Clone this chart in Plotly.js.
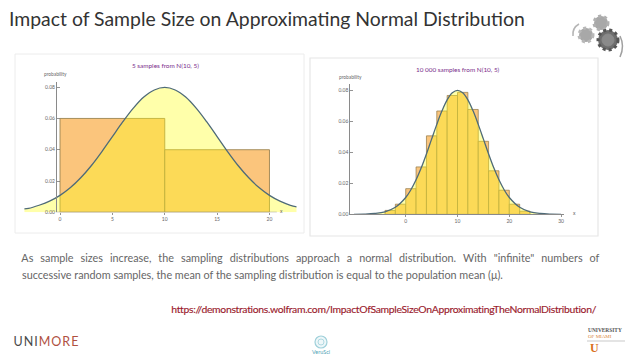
<!DOCTYPE html>
<html><head><meta charset="utf-8">
<script src="https://cdn.plot.ly/plotly-3.0.1.min.js"></script>
<style>html,body{margin:0;padding:0;background:#fff}#c{width:640px;height:360px}</style>
</head><body><div id="c"></div>
<script>
// Data
const leftBarCenters = [5, 15];
const leftBarWidths = [10, 10];
const leftBarValues = [0.06, 0.04];
const leftCurveX = [-3.4,-3,-2,-1,0,1,2,3,4,5,6,7,8,9,10,11,12,13,14,15,16,17,18,19,20,21,22,22.6];
const leftCurveY = [0.0022,0.0025,0.0045,0.0071,0.0108,0.0158,0.0222,0.0299,0.0388,0.0484,0.0579,0.0666,0.0737,0.0782,0.0798,0.0782,0.0737,0.0666,0.0579,0.0484,0.0388,0.0299,0.0222,0.0158,0.0108,0.0071,0.0045,0.0034];
const rightBarCenters = [-3,-1,1,3,5,7,9,11,13,15,17,19,21,23];
const rightBarValues = [0.0025,0.0065,0.0165,0.0305,0.0505,0.0665,0.0765,0.0785,0.0675,0.047,0.028,0.0155,0.0065,0.002];
const rightCurveX = [-10,-8,-6,-4,-2,0,1,2,3,4,5,6,7,8,9,10,11,12,13,14,15,16,17,18,19,20,22,24,26,28,30];
const rightCurveY = [0.0000,0.0001,0.0005,0.0016,0.0045,0.0108,0.0158,0.0222,0.0299,0.0388,0.0484,0.0579,0.0666,0.0737,0.0782,0.0798,0.0782,0.0737,0.0666,0.0579,0.0484,0.0388,0.0299,0.0222,0.0158,0.0108,0.0045,0.0016,0.0005,0.0001,0.0000];
const leftXTicks = [0,5,10,15,20];
const rightXTicks = [0,10,20,30];
const yTicks = [0,0.02,0.04,0.06,0.08];
const titleText = 'Impact of Sample Size on Approximating Normal Distribution';
const leftTitle = '5 samples from N(10, 5)';
const rightTitle = '10 000 samples from N(10, 5)';
const bodyLine1 = 'As sample sizes increase, the sampling distributions approach a normal distribution. With "infinite" numbers of';
const bodyLine2 = 'successive random samples, the mean of the sampling distribution is equal to the population mean (μ).';
const linkText = 'https://demonstrations.wolfram.com/ImpactOfSampleSizeOnApproximatingTheNormalDistribution/';

const W=640,H=360;
const px=x=>x/W, py=y=>1-y/H;
const FONT='Lato, sans-serif';
const barFill='#FBC57C', barLine='#9C8350', curve='#4F6B78', fillC='rgba(255,255,25,0.37)', axisC='#8a8a8a', tickC='#666';

const bar=(x,y,w,xa,ya,lw)=>({type:'bar',x,y,width:w,xaxis:xa,yaxis:ya,marker:{color:barFill,line:{color:barLine,width:lw}},hoverinfo:'skip'});
const cur=(x,y,xa,ya)=>({type:'scatter',mode:'lines',x,y,xaxis:xa,yaxis:ya,fill:'tozeroy',fillcolor:fillC,line:{color:curve,width:1.3,shape:'spline'},hoverinfo:'skip'});

const data=[
 bar(leftBarCenters,leftBarValues,leftBarWidths,'x','y',0.9),
 cur(leftCurveX,leftCurveY,'x','y'),
 bar(rightBarCenters,rightBarValues,rightBarCenters.map(()=>2),'x2','y2',0.8),
 cur(rightCurveX,rightCurveY,'x2','y2')
];

const note=(text,x,y,size,color,extra)=>Object.assign({text,xref:'paper',yref:'paper',x:px(x),y:py(y),xanchor:'left',yanchor:'middle',showarrow:false,borderpad:0,font:{family:FONT,size,color}},extra||{});
const mid={xanchor:'center'};
const serif=(size,color)=>({font:{family:'Liberation Serif, serif',size,color}});
const annotations=[
 note(titleText,8,18,19.4,'#333333'),
 note(leftTitle,165,65,6.4,'#7B2D8B',mid),
 note(rightTitle,458,69,6.4,'#7B2D8B',mid),
 note('probability',43,74,4.8,'#666'),
 note('probability',338,77,4.8,'#666'),
 note('x',279,211,5,'#666'),
 note('x',572,213,5,'#666'),
 note(bodyLine1,310,257,10.8,'#666666',mid),
 note(bodyLine2,21,274,10.8,'#666666'),
 note(linkText,383.5,309,10.4,'#9B1C2E',mid),
 note('UNI<span style="color:#B0513F">MORE</span>',16,341,12.5,'#4a4a4a'),
 note('VeruSci',321.5,352,5.5,'#4FA3B5',mid),
 note('<b>UNIVERSITY</b>',587,330,5.4,'#555',serif(5.4,'#555')),
 note('OF MIAMI',587,336.5,5,'#D9873A',serif(5,'#D9873A')),
 note('<b>U</b>',589,347.5,12,'#D9701E',serif(12,'#D9701E'))
];

const rect=(x0,y0,x1,y1,color,w,fill)=>({type:'rect',xref:'paper',yref:'paper',x0:px(x0),x1:px(x1),y0:py(y0),y1:py(y1),line:{color,width:w},fillcolor:fill||'rgba(0,0,0,0)',layer:'below'});
const circle=(cx,cy,r,color,w,fill,dash)=>({type:'circle',xref:'paper',yref:'paper',x0:px(cx-r),x1:px(cx+r),y0:py(cy-r),y1:py(cy+r),line:{color,width:w,dash:dash||'solid'},fillcolor:fill||'rgba(0,0,0,0)',layer:'above'});
const arc=(x0,y0,cx,cy,x1,y1,color,w)=>({type:'path',xref:'paper',yref:'paper',path:`M ${px(x0)} ${py(y0)} Q ${px(cx)} ${py(cy)} ${px(x1)} ${py(y1)}`,line:{color,width:w},layer:'above'});
const shapes=[
 rect(15,54,304,233,'#ececec',1,'#ffffff'),
 rect(310,58,598,236,'#e6e6e6',1.2,'#ffffff'),
 {type:'line',xref:'x',yref:'y',x0:-0.38,x1:20.7,y0:0,y1:0,line:{color:axisC,width:1},layer:'above'},
 circle(601,23,7,'#b0b0b0',3,'#a8a8a8','dot'),
 circle(586,35,7,'#b8b8b8',3,'#a8a8a8','dot'),
 circle(608,40,10,'#555555',3,'#6e6e6e','dot'),
 circle(608,40,6,'#8a8a8a',1,'#8a8a8a'),
 arc(573,36,572,28,579,24,'#b5b5b5',1.5),
 arc(620,36,625,46,620,57,'#a0a0a0',1.5),
 circle(321,342,6,'#9fd0da',1.2,'#eef7f9'),
 circle(321,342,3,'#9fd0da',0.8),
 {type:'line',xref:'paper',yref:'paper',x0:px(587),x1:px(625),y0:py(341),y1:py(341),line:{color:'#bbb',width:0.8}}
];

const tf={family:FONT,size:5,color:'#666'};
const xax=(dom,range,vals,anchor,line)=>({domain:[px(dom[0]),px(dom[1])],range,anchor,tickmode:'array',tickvals:vals,ticktext:vals.map(String),tickfont:tf,ticks:'outside',ticklen:2,tickwidth:0.7,tickcolor:tickC,showgrid:false,zeroline:false,showline:line,linecolor:axisC,linewidth:1,fixedrange:true});
const yax=(top,bot,range,extra)=>Object.assign({domain:[py(bot),py(top)],range,tickmode:'array',tickvals:yTicks,ticktext:yTicks.map(v=>v.toFixed(2)),tickfont:tf,ticks:'inside',ticklen:2.5,tickwidth:0.7,tickcolor:tickC,showgrid:false,zeroline:false,showline:true,linecolor:axisC,linewidth:1,fixedrange:true},extra);

const layout={
 width:W,height:H,margin:{l:0,r:0,t:0,b:0},paper_bgcolor:'#ffffff',plot_bgcolor:'rgba(0,0,0,0)',showlegend:false,barmode:'overlay',
 xaxis:xax([24,296.7],[-3.44,22.6],leftXTicks,'y',false),
 yaxis:yax(82,212.3,[0,0.0833],{anchor:'free',position:px(56)}),
 xaxis2:xax([350.3,563.7],[-10.7,30.5],rightXTicks,'y2',true),
 yaxis2:yax(84.3,214.3,[0,0.0837],{anchor:'x2'}),
 annotations,shapes
};
Plotly.newPlot('c',data,layout,{displayModeBar:false,staticPlot:true}).then(()=>{
 const a=[...document.querySelectorAll('.annotation')];
 const byText=t=>a.find(n=>n.textContent.startsWith(t));
 const s1=byText('As sample');
 if(s1){const tx=s1.querySelector('text');const w=tx.getComputedTextLength();const gaps=bodyLine1.split(' ').length-1;tx.style.wordSpacing=((578-w)/gaps)+'px';}
 const l=byText('https'); if(l){const tx=l.querySelector('text');const w=tx.getComputedTextLength();tx.style.letterSpacing=((425-w)/linkText.length)+'px';tx.style.stroke='#9B1C2E';tx.style.strokeWidth='0.15px';}
 const u=byText('UNIMORE'); if(u){u.querySelector('text').style.letterSpacing='1px';}
});
</script></body></html>
